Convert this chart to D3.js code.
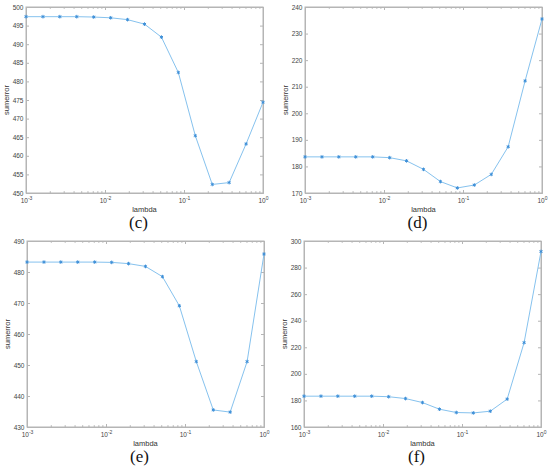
<!DOCTYPE html>
<html>
<head>
<meta charset="utf-8">
<script src="https://cdn.jsdelivr.net/npm/d3@7"></script>
<style>
  body { margin: 0; background: #fff; }
  svg { display: block; }
</style>
</head>
<body>
<div id="graph_area"></div>
<script>
// Data
const lambda = [0.001, 0.00164, 0.00268, 0.00439, 0.0072, 0.0118, 0.0193, 0.0316,
  0.0518, 0.0848, 0.139, 0.228, 0.373, 0.611, 1];
const errC = [497.4, 497.4, 497.4, 497.4, 497.3, 497.1, 496.6, 495.4, 491.9, 482.4, 465.4, 452.3, 452.8, 463.2, 474.4];
const errD = [183.6, 183.6, 183.6, 183.6, 183.6, 183.3, 182.1, 178.9, 174.3, 171.9, 173.0, 177.0, 187.4, 212.2, 235.5];
const errE = [483.2, 483.2, 483.2, 483.2, 483.2, 483.1, 482.7, 481.8, 478.5, 469.1, 451.1, 435.5, 434.8, 451.1, 485.8];
const errF = [183.2, 183.2, 183.2, 183.2, 183.2, 182.8, 181.4, 178.4, 173.4, 170.9, 170.6, 171.9, 181.0, 223.5, 292.1];

const ticksC = [450, 455, 460, 465, 470, 475, 480, 485, 490, 495, 500];
const ticksD = [170, 180, 190, 200, 210, 220, 230, 240];
const ticksE = [430, 440, 450, 460, 470, 480, 490];
const ticksF = [160, 180, 200, 220, 240, 260, 280, 300];
const xTicks = [0.001, 0.01, 0.1, 1];
const xExp = ['-3', '-2', '-1', '0'];
const captions = ['(c)', '(d)', '(e)', '(f)'];

const panels = [
  { vals: errC, ticks: ticksC, cap: captions[0], left: 26, top: 7 },
  { vals: errD, ticks: ticksD, cap: captions[1], left: 305, top: 7 },
  { vals: errE, ticks: ticksE, cap: captions[2], left: 27, top: 241 },
  { vals: errF, ticks: ticksF, cap: captions[3], left: 304, top: 241 },
];

const width = 237;
const height = 186;
const lineColor = '#86c2ee';
const markColor = '#3d8fd8';
const axisColor = '#b5b5b5';
const textColor = '#444';
const sans = 'Liberation Sans, Arial, sans-serif';

// minor ticks on log axis
const minor = [];
[0.001, 0.01, 0.1].forEach(d => {
  for (let k = 2; k <= 9; k++) minor.push(d * k);
});

const root = d3.select('#graph_area')
  .append('svg')
    .attr('width', 550)
    .attr('height', 470);

panels.forEach(p => {
  const svg = root.append('g')
    .attr('transform', `translate(${p.left},${p.top})`);

  const x = d3.scaleLog()
    .domain([0.001, 1])
    .range([0, width]);
  const y = d3.scaleLinear()
    .domain([p.ticks[0], p.ticks[p.ticks.length - 1]])
    .range([height, 0]);

  // X axis bottom (ticks inside)
  const xb = svg.append('g')
    .attr('transform', `translate(0,${height})`)
    .call(d3.axisBottom(x).tickValues(xTicks).tickSizeInner(-3).tickSizeOuter(0).tickPadding(5)
      .tickFormat(() => ''));
  xb.selectAll('.tick text').each(function(d, i) {
    const t = d3.select(this);
    t.append('tspan').text('10');
    t.append('tspan').attr('dy', -3).attr('font-size', 5).text(xExp[i]);
  });
  svg.append('g')
    .attr('transform', `translate(0,${height})`)
    .call(d3.axisBottom(x).tickValues(minor).tickSizeInner(-1.8).tickSizeOuter(0).tickFormat(''));

  // X axis top
  svg.append('g')
    .call(d3.axisTop(x).tickValues(xTicks).tickSizeInner(-3).tickSizeOuter(0).tickFormat(''));
  svg.append('g')
    .call(d3.axisTop(x).tickValues(minor).tickSizeInner(-1.8).tickSizeOuter(0).tickFormat(''));

  // Y axis left and right
  svg.append('g')
    .call(d3.axisLeft(y).tickValues(p.ticks).tickSizeInner(-3).tickSizeOuter(0).tickPadding(2.5));
  svg.append('g')
    .attr('transform', `translate(${width},0)`)
    .call(d3.axisRight(y).tickValues(p.ticks).tickSizeInner(-3).tickSizeOuter(0).tickFormat(''));

  svg.selectAll('.domain').attr('stroke', axisColor);
  svg.selectAll('.tick line').attr('stroke', axisColor);
  svg.selectAll('.tick text')
    .attr('fill', textColor)
    .attr('font-family', sans)
    .attr('font-size', 6.5);

  // Box
  svg.append('rect')
    .attr('width', width)
    .attr('height', height)
    .attr('fill', 'none')
    .attr('stroke', axisColor)
    .attr('stroke-width', 1);

  // Labels
  svg.append('text')
    .attr('x', width / 2)
    .attr('y', height + 19)
    .attr('text-anchor', 'middle')
    .attr('font-family', sans)
    .attr('font-size', 7.5)
    .attr('fill', '#333')
    .text('lambda');
  svg.append('text')
    .attr('transform', `translate(-17,${height / 2}) rotate(-90)`)
    .attr('text-anchor', 'middle')
    .attr('font-family', sans)
    .attr('font-size', 7.5)
    .attr('fill', '#333')
    .text('sumerror');
  svg.append('text')
    .attr('x', width / 2 - 6)
    .attr('y', height + 35)
    .attr('text-anchor', 'middle')
    .attr('font-family', 'Liberation Serif, Times New Roman, serif')
    .attr('font-size', 17)
    .attr('fill', '#111')
    .text(p.cap);

  // Line
  const pts = lambda.map((l, i) => ({ xval: l, yval: p.vals[i] }));
  svg.append('path')
    .datum(pts)
    .attr('fill', 'none')
    .attr('stroke', lineColor)
    .attr('stroke-width', 1)
    .attr('d', d3.line()
      .x(d => x(d.xval))
      .y(d => y(d.yval))
    );

  // Asterisk markers
  svg.append('g')
    .selectAll('path')
    .data(pts)
    .join('path')
      .attr('transform', d => `translate(${x(d.xval)},${y(d.yval)})`)
      .attr('d', d3.symbol(d3.symbolAsterisk, 9)())
      .attr('stroke', markColor)
      .attr('stroke-width', 1)
      .attr('fill', 'none');
});
</script>
</body>
</html>
